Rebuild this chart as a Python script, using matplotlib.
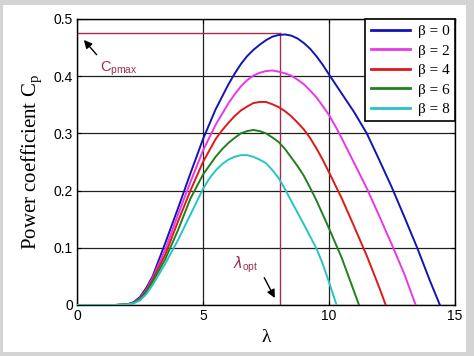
import matplotlib
matplotlib.use('Agg')
import matplotlib.pyplot as plt
from matplotlib.patches import Rectangle

# tip speed ratio / power coefficient
lam_b0 = [0, 1, 1.5, 2, 2.25, 2.5, 2.75, 3, 3.5, 4, 4.5, 5, 5.5, 6, 6.25, 6.5, 6.75, 7, 7.25,
          7.5, 7.75, 8, 8.25, 8.5, 8.75, 9, 9.25, 9.5, 9.75, 10, 10.5, 11, 11.5, 12, 12.5,
          13, 13.5, 14, 14.4]
cp_b0 = [0, 0, 0, 0.001, 0.005, 0.014, 0.030, 0.050, 0.108, 0.168, 0.230, 0.290, 0.342,
         0.385, 0.404, 0.421, 0.435, 0.446, 0.455, 0.463, 0.469, 0.472, 0.473, 0.471, 0.466,
         0.458, 0.448, 0.435, 0.420, 0.403, 0.370, 0.337, 0.300, 0.253, 0.205, 0.153, 0.100,
         0.043, 0]

lam_b2 = [0, 1, 1.5, 2, 2.25, 2.5, 2.75, 3, 3.5, 4, 4.5, 5, 5.5, 6, 6.25, 6.5, 6.75, 7, 7.25,
          7.5, 7.75, 8, 8.25, 8.5, 8.75, 9, 9.25, 9.5, 9.75, 10, 10.25, 10.5, 11, 11.5, 12,
          12.5, 13, 13.44]
cp_b2 = [0, 0, 0, 0.001, 0.004, 0.012, 0.027, 0.047, 0.097, 0.157, 0.215, 0.270, 0.315,
         0.352, 0.368, 0.382, 0.393, 0.401, 0.406, 0.409, 0.410, 0.408, 0.405, 0.401, 0.394,
         0.386, 0.375, 0.363, 0.348, 0.332, 0.313, 0.292, 0.248, 0.204, 0.155, 0.105, 0.053, 0]

lam_b4 = [0, 1, 1.5, 2, 2.25, 2.5, 2.75, 3, 3.5, 4, 4.5, 5, 5.5, 5.75, 6, 6.25, 6.5, 6.75, 7,
          7.25, 7.5, 7.75, 8, 8.25, 8.5, 8.75, 9, 9.25, 9.5, 9.75, 10, 10.5, 11, 11.5, 12, 12.25]
cp_b4 = [0, 0, 0, 0.001, 0.004, 0.011, 0.025, 0.044, 0.088, 0.145, 0.200, 0.250, 0.290,
         0.305, 0.318, 0.330, 0.340, 0.347, 0.353, 0.355, 0.355, 0.351, 0.346, 0.339, 0.330,
         0.319, 0.307, 0.292, 0.274, 0.254, 0.232, 0.187, 0.137, 0.086, 0.030, 0]

lam_b6 = [0, 1, 1.5, 2, 2.25, 2.5, 2.75, 3, 3.5, 4, 4.5, 5, 5.5, 5.75, 6, 6.25, 6.5, 6.75, 7,
          7.25, 7.5, 7.75, 8, 8.25, 8.5, 8.75, 9, 9.25, 9.5, 10, 10.5, 11, 11.19]
cp_b6 = [0, 0, 0, 0.001, 0.004, 0.010, 0.023, 0.040, 0.080, 0.130, 0.186, 0.228, 0.259,
         0.272, 0.283, 0.292, 0.300, 0.304, 0.306, 0.304, 0.300, 0.293, 0.285, 0.273, 0.258,
         0.243, 0.226, 0.205, 0.183, 0.134, 0.083, 0.023, 0]

lam_b8 = [0, 1, 1.5, 2, 2.25, 2.5, 2.75, 3, 3.5, 4, 4.5, 5, 5.25, 5.5, 5.75, 6, 6.25, 6.5,
          6.75, 7, 7.25, 7.5, 7.75, 8, 8.25, 8.5, 9, 9.5, 9.75, 10, 10.3]
cp_b8 = [0, 0, 0, 0.001, 0.003, 0.008, 0.019, 0.035, 0.072, 0.113, 0.158, 0.203, 0.221,
         0.235, 0.246, 0.254, 0.259, 0.262, 0.262, 0.259, 0.254, 0.248, 0.236, 0.222, 0.203,
         0.182, 0.141, 0.099, 0.072, 0.040, 0]

labels = ['β = 0', 'β = 2', 'β = 4', 'β = 6', 'β = 8']
colors = ['#1414b4', '#e838e8', '#e01818', '#208020', '#28c4c4']

lam_opt = 8.06
cp_max = 0.475

fig = plt.figure(figsize=(4.74, 3.56), dpi=100)
fig.patch.set_facecolor('#d4d4d4')
fig.patches.append(Rectangle((3 / 474, 4 / 356), 463 / 474, 347 / 356,
                             transform=fig.transFigure, facecolor='white',
                             edgecolor='none', zorder=-10))

ax = fig.add_axes([77 / 474, 1 - 305 / 356, 378 / 474, 286 / 356])

series = [(lam_b0, cp_b0), (lam_b2, cp_b2), (lam_b4, cp_b4), (lam_b6, cp_b6), (lam_b8, cp_b8)]
for (x, y), lab, c in zip(series, labels, colors):
    ax.plot(x, y, color=c, lw=1.4, label=lab, zorder=3)

# optimum markers
ax.plot([0, lam_opt], [cp_max, cp_max], color='#a0304f', lw=1, zorder=2)
ax.plot([lam_opt, lam_opt], [0, cp_max], color='#a0304f', lw=1, zorder=2)

ax.annotate('', xy=(0.2, 0.467), xytext=(0.85, 0.434),
            arrowprops=dict(arrowstyle='-|>', color='black', lw=1, mutation_scale=12))
ax.text(0.9, 0.43, r'C$_{\mathregular{pmax}}$', color='#9b2d4a', fontsize=10.5,
        family='Liberation Sans', va='top', ha='left')

ax.annotate('', xy=(7.9, 0.008), xytext=(7.38, 0.052),
            arrowprops=dict(arrowstyle='-|>', color='black', lw=1, mutation_scale=12))
ax.text(6.2, 0.052, r'$\lambda_{\mathregular{opt}}$', color='#9b2d4a', fontsize=10.5,
        family='Liberation Sans', va='bottom', ha='left')

ax.set_xlim(0, 15)
ax.set_ylim(0, 0.5)
ax.set_xticks([0, 5, 10, 15])
ax.set_yticks([0, 0.1, 0.2, 0.3, 0.4, 0.5])
ax.set_yticklabels(['0', '0.1', '0.2', '0.3', '0.4', '0.5'])
ax.tick_params(direction='in', length=3, top=True, right=True, labelsize=10, pad=3)
for t in ax.get_xticklabels() + ax.get_yticklabels():
    t.set_family('Liberation Sans')
ax.grid(True, color='#202020', lw=0.9, ls='-')
ax.set_axisbelow(True)
for s in ax.spines.values():
    s.set_linewidth(1)

ax.set_xlabel('λ', family='Liberation Serif', fontsize=14, labelpad=4)
ax.set_ylabel(r'Power coefficient C$_{\mathregular{p}}$', family='Liberation Serif',
              fontsize=15, labelpad=6)

leg = ax.legend(loc='upper right', borderaxespad=0, fancybox=False, framealpha=1,
                prop={'family': 'Liberation Serif', 'size': 11}, handlelength=2.6,
                handletextpad=0.5, labelspacing=0.38, borderpad=0.35)
leg.get_frame().set_edgecolor('black')
leg.get_frame().set_linewidth(1.2)
for h in leg.get_lines():
    h.set_linewidth(2)

fig.savefig('out.png', dpi=100)
plt.close()
